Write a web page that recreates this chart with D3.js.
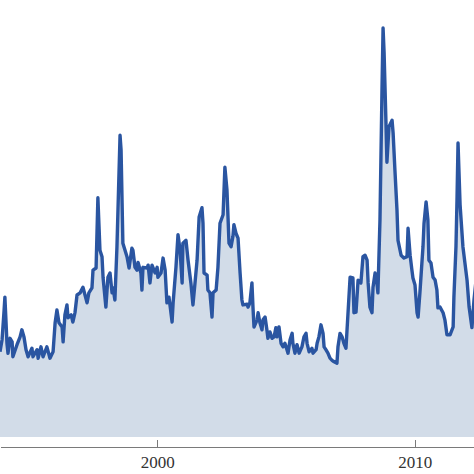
<!DOCTYPE html>
<meta charset="utf-8">
<style>

body {
  margin: 0;
  background: #fff;
}

.axis path,
.axis line {
  fill: none;
  stroke: #7a7a7a;
  shape-rendering: crispEdges;
}

.axis text {
  font: 17px "Liberation Serif", serif;
  fill: #333;
}

.area {
  fill: #d2dce8;
}

.line {
  fill: none;
  stroke: #2a55a1;
  stroke-width: 3.4;
  stroke-linejoin: round;
}

</style>
<body>
<svg width="474" height="474"></svg>
</body>

<script src="https://d3js.org/d3.v7.min.js"></script>
<script>

// decimal year of each reading
var years = [
  1993.90, 1993.98, 1994.06, 1994.09, 1994.13, 1994.17, 1994.21, 1994.29, 1994.37, 1994.40,
  1994.56, 1994.68, 1994.75, 1994.83, 1994.91, 1994.99, 1995.14, 1995.18, 1995.34, 1995.38,
  1995.49, 1995.57, 1995.72, 1995.84, 1995.96, 1996.04, 1996.11, 1996.19, 1996.31, 1996.35,
  1996.42, 1996.50, 1996.54, 1996.66, 1996.73, 1996.81, 1996.89, 1997.01, 1997.12, 1997.20,
  1997.28, 1997.35, 1997.47, 1997.51, 1997.63, 1997.70, 1997.78, 1997.86, 1997.90, 1998.01,
  1998.09, 1998.17, 1998.25, 1998.29, 1998.36, 1998.44, 1998.56, 1998.60, 1998.67, 1998.83,
  1998.91, 1999.02, 1999.06, 1999.14, 1999.22, 1999.26, 1999.37, 1999.41, 1999.45, 1999.61,
  1999.65, 1999.72, 1999.80, 1999.92, 2000.00, 2000.03, 2000.15, 2000.23, 2000.31, 2000.38,
  2000.46, 2000.58, 2000.62, 2000.73, 2000.81, 2000.89, 2000.97, 2001.00, 2001.12, 2001.20,
  2001.31, 2001.39, 2001.47, 2001.55, 2001.63, 2001.74, 2001.78, 2001.82, 2001.94, 2001.97,
  2002.05, 2002.13, 2002.17, 2002.29, 2002.36, 2002.44, 2002.56, 2002.63, 2002.71, 2002.79,
  2002.87, 2002.94, 2002.98, 2003.06, 2003.14, 2003.22, 2003.29, 2003.33, 2003.49, 2003.53,
  2003.60, 2003.68, 2003.72, 2003.76, 2003.88, 2003.92, 2003.99, 2004.07, 2004.11, 2004.19,
  2004.26, 2004.30, 2004.38, 2004.46, 2004.54, 2004.61, 2004.65, 2004.73, 2004.81, 2004.89,
  2004.96, 2005.04, 2005.08, 2005.16, 2005.24, 2005.27, 2005.35, 2005.43, 2005.51, 2005.62,
  2005.70, 2005.78, 2005.82, 2005.90, 2006.01, 2006.05, 2006.17, 2006.21, 2006.28, 2006.36,
  2006.44, 2006.48, 2006.55, 2006.63, 2006.71, 2006.79, 2006.87, 2006.98, 2007.02, 2007.10,
  2007.18, 2007.25, 2007.33, 2007.41, 2007.49, 2007.60, 2007.64, 2007.72, 2007.80, 2007.91,
  2007.99, 2008.07, 2008.15, 2008.19, 2008.26, 2008.34, 2008.38, 2008.46, 2008.53, 2008.57,
  2008.65, 2008.73, 2008.77, 2008.81, 2008.88, 2008.92, 2009.00, 2009.12, 2009.16, 2009.23,
  2009.31, 2009.35, 2009.47, 2009.58, 2009.70, 2009.74, 2009.82, 2009.89, 2009.93, 2010.01,
  2010.09, 2010.13, 2010.20, 2010.32, 2010.36, 2010.44, 2010.51, 2010.55, 2010.63, 2010.71,
  2010.79, 2010.86, 2010.90, 2010.98, 2011.10, 2011.17, 2011.25, 2011.37, 2011.49, 2011.52,
  2011.60, 2011.64, 2011.68, 2011.76, 2011.87, 2012.03, 2012.11, 2012.22, 2012.30, 2012.38
];

var values = [
  12.0, 13.7, 17.9, 19.7, 16.5, 13.2, 11.8, 13.9, 13.4, 11.3,
  13.0, 14.1, 15.1, 14.1, 12.3, 11.3, 12.5, 11.3, 12.3, 11.1,
  12.7, 11.3, 12.7, 11.1, 12.0, 16.1, 17.9, 16.1, 15.5, 13.4,
  17.2, 18.6, 16.8, 17.2, 16.2, 17.5, 20.0, 20.3, 21.1, 20.0,
  18.9, 20.3, 21.0, 23.5, 23.8, 33.7, 26.3, 25.4, 22.5, 18.3,
  22.5, 23.1, 20.3, 21.0, 19.3, 26.8, 42.5, 40.4, 27.3, 25.4,
  23.8, 26.6, 26.3, 23.9, 23.5, 24.6, 23.1, 20.7, 23.9, 23.8,
  24.2, 21.7, 24.2, 23.1, 23.9, 22.5, 23.1, 25.2, 23.5, 18.9,
  19.7, 16.2, 18.9, 23.9, 28.5, 26.3, 21.7, 27.3, 27.7, 24.9,
  21.7, 18.6, 21.7, 24.9, 31.0, 32.3, 30.1, 23.1, 22.8, 20.7,
  20.3, 16.9, 20.3, 20.7, 23.9, 30.1, 31.3, 38.0, 34.8, 27.3,
  26.8, 28.2, 29.9, 28.7, 28.0, 23.1, 19.3, 18.6, 18.7, 18.3,
  18.9, 21.7, 18.3, 15.5, 16.5, 17.5, 16.1, 15.1, 16.5, 16.9,
  15.1, 13.9, 14.8, 13.9, 14.1, 15.4, 14.1, 15.5, 13.2, 12.7,
  13.2, 12.3, 11.8, 13.7, 14.6, 13.2, 11.8, 13.0, 11.8, 12.7,
  14.1, 14.6, 13.2, 12.0, 12.5, 11.8, 12.3, 13.2, 14.1, 15.8,
  14.6, 12.7, 12.3, 11.8, 11.1, 10.8, 10.6, 10.4, 12.7, 14.6,
  14.1, 13.2, 12.5, 17.5, 22.5, 22.4, 17.5, 17.6, 22.1, 21.7,
  25.4, 25.6, 24.9, 21.7, 18.3, 17.5, 21.1, 23.1, 21.7, 20.3,
  30.6, 49.3, 57.6, 54.1, 44.6, 38.7, 43.7, 44.6, 42.8, 37.6,
  32.0, 27.7, 25.6, 25.2, 25.4, 29.4, 25.6, 23.5, 22.4, 21.4,
  17.5, 16.9, 20.3, 26.8, 30.1, 33.1, 30.6, 24.9, 24.5, 22.5,
  22.1, 20.7, 18.2, 18.3, 17.5, 16.5, 14.4, 14.4, 15.5, 19.7,
  26.8, 33.4, 41.4, 32.7, 26.8, 22.1, 18.3, 15.4, 19.3, 22.1
];

var tickYears = [2000, 2010];

var data = years.map(function(d, i) { return {year: d, value: values[i]}; });

var svg = d3.select("svg"),
    width = +svg.attr("width"),
    height = +svg.attr("height"),
    baseline = 437,
    axisY = 446.5;

var x = d3.scaleLinear()
    .domain([1993.9, 2012.3])
    .range([0, width]);

var y = d3.scaleLinear()
    .domain([0, 60])
    .range([baseline, 11]);

var area = d3.area()
    .x(function(d) { return x(d.year); })
    .y0(y(0))
    .y1(function(d) { return y(d.value); });

var line = d3.line()
    .x(function(d) { return x(d.year); })
    .y(function(d) { return y(d.value); });

svg.append("path")
    .datum(data)
    .attr("class", "area")
    .attr("d", area);

svg.append("path")
    .datum(data)
    .attr("class", "line")
    .attr("d", line);

svg.append("g")
    .attr("class", "axis axis--x")
    .attr("transform", "translate(0," + axisY + ")")
    .call(d3.axisBottom(x)
        .tickValues(tickYears)
        .tickFormat(d3.format("d"))
        .tickSizeInner(-7)
        .tickSizeOuter(0)
        .tickPadding(9))
    .call(function(g) { g.selectAll("text").attr("fill", null); })
    .call(function(g) { g.selectAll("line, path").attr("stroke", null); });

</script>
